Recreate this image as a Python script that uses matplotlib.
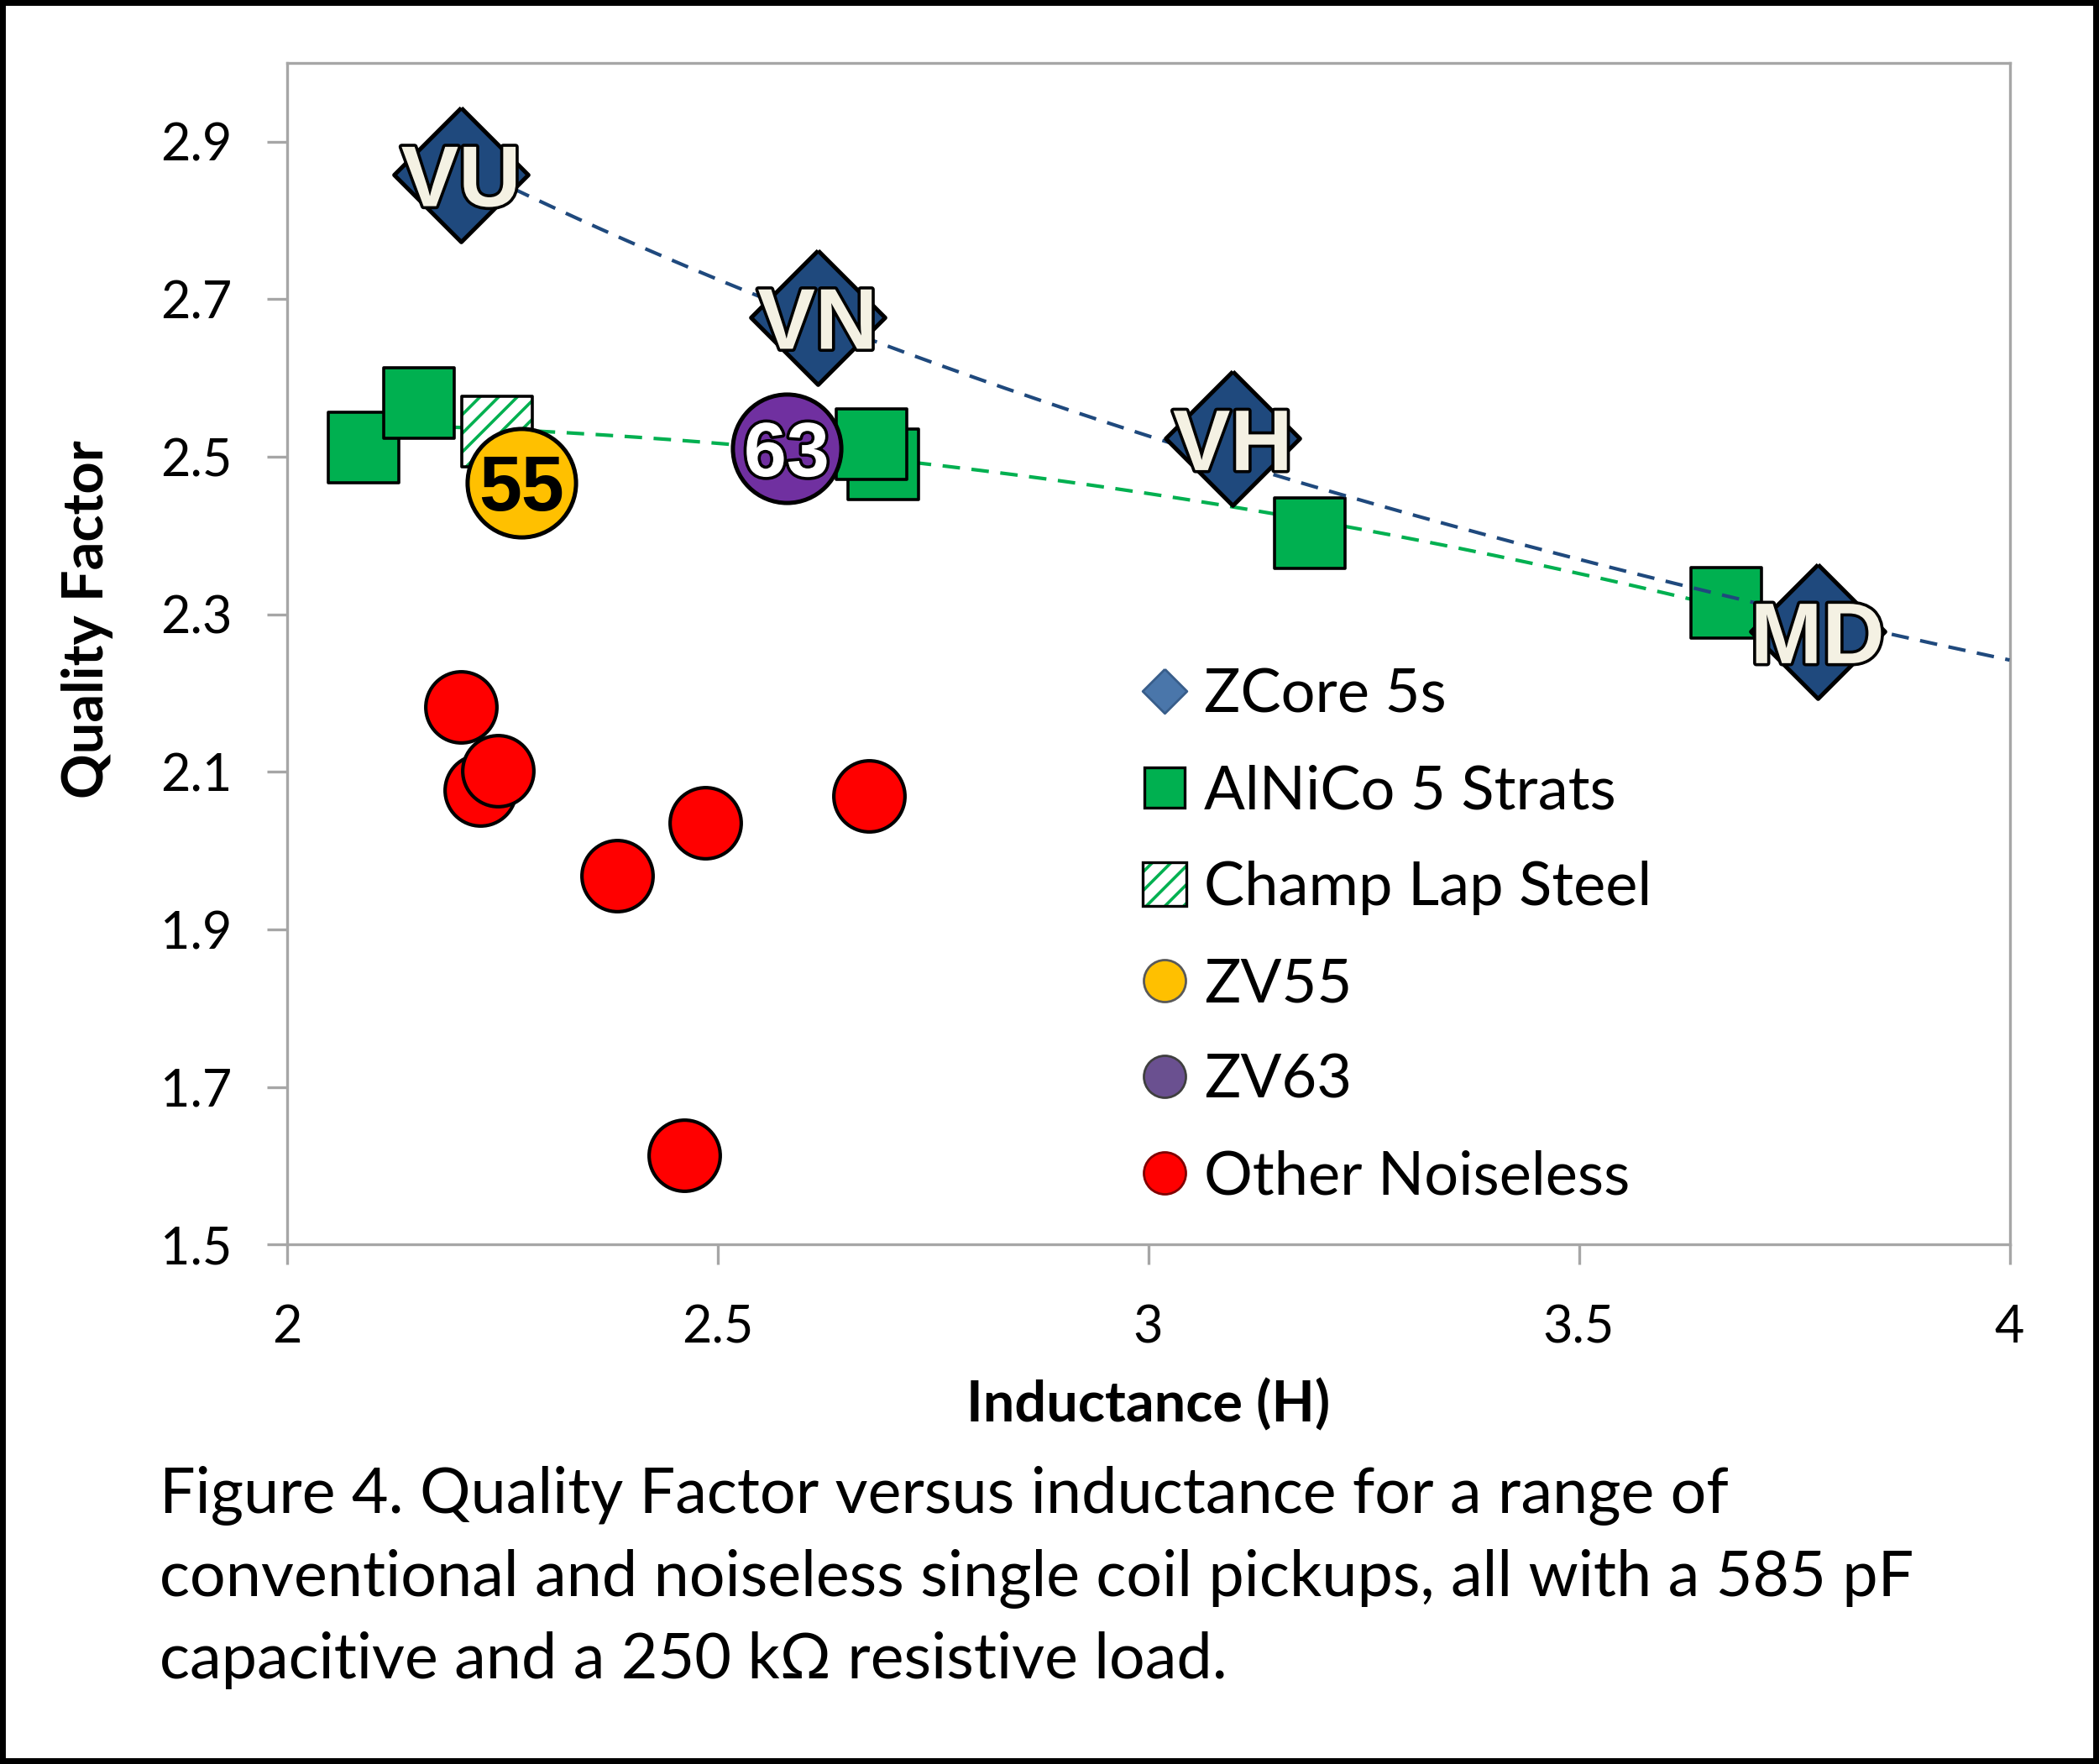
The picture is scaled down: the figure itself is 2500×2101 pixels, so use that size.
import numpy as np
import matplotlib.pyplot as plt
import matplotlib.patheffects as pe
from matplotlib.lines import Line2D
from matplotlib.patches import Patch, Rectangle

plt.rcParams['font.family'] = ['Lato', 'DejaVu Sans']
plt.rcParams['hatch.linewidth'] = 1.3

# ZCore 5s pickups (labelled diamonds)
zcore_L = [2.202, 2.616, 3.098, 3.777]
zcore_Q = [2.858, 2.677, 2.523, 2.278]
zcore_names = ['VU', 'VN', 'VH', 'MD']

# AlNiCo 5 Strats
strat_L = [2.089, 2.153, 2.692, 2.679, 3.188, 3.671]
strat_Q = [2.512, 2.568, 2.490, 2.516, 2.403, 2.315]

# Champ Lap Steel
champ_L = [2.244]
champ_Q = [2.532]

# ZV55 / ZV63
zv55_L = [2.272]
zv55_Q = [2.467]
zv63_L = [2.580]
zv63_Q = [2.511]

# Other noiseless pickups
other_L = [2.202, 2.224, 2.245, 2.383, 2.486, 2.676, 2.461]
other_Q = [2.182, 2.077, 2.101, 1.968, 2.035, 2.070, 1.613]

x_ticks = [2, 2.5, 3, 3.5, 4]
x_ticklabels = ['2', '2.5', '3', '3.5', '4']
y_ticks = [1.5, 1.7, 1.9, 2.1, 2.3, 2.5, 2.7, 2.9]

caption = ['Figure 4. Quality Factor versus inductance for a range of',
           'conventional and noiseless single coil pickups, all with a 585 pF',
           'capacitive and a 250 k\u03a9 resistive load.']

BLUE = '#1F497D'
GREEN = '#00B050'
diamond = [(0, 1), (1, 0), (0, -1), (-1, 0), (0, 1)]

fig = plt.figure(figsize=(12.5, 10.505), dpi=200)
ax = fig.add_axes([0.1367, 0.2944, 0.8207, 0.67])

# trendlines: power fit for ZCore 5s, 2nd order poly for the strats
b, ln_a = np.polyfit(np.log(zcore_L), np.log(zcore_Q), 1)
xs = np.linspace(min(zcore_L), 4.0, 200)
ax.plot(xs, np.exp(ln_a) * xs ** b, color=BLUE, lw=1.5, dashes=(5, 3.3), zorder=3)

c = np.polyfit(strat_L, strat_Q, 2)
xs2 = np.linspace(min(strat_L), max(strat_L), 200)
ax.plot(xs2, np.polyval(c, xs2), color=GREEN, lw=1.5, dashes=(5, 3.3), zorder=1)

ax.scatter(strat_L, strat_Q, marker='s', s=30 ** 2, facecolor=GREEN,
           edgecolor='black', linewidths=1.3, zorder=2)
ax.scatter(champ_L, champ_Q, marker='s', s=30 ** 2, facecolor='white',
           edgecolor=GREEN, linewidths=0, hatch='///', zorder=2)
ax.scatter(champ_L, champ_Q, marker='s', s=30 ** 2, facecolor='none',
           edgecolor='black', linewidths=1.3, zorder=2)

ax.plot(zcore_L, zcore_Q, ls='none', marker=diamond, ms=57.5, mfc=BLUE,
        mec='black', mew=1.8, zorder=4)
ax.plot(other_L, other_Q, ls='none', marker='o', ms=30.5, mfc='#FF0000',
        mec='black', mew=1.5, zorder=4)
ax.plot(zv55_L, zv55_Q, ls='none', marker='o', ms=46.5, mfc='#FFC000',
        mec='black', mew=1.8, zorder=5)
ax.plot(zv63_L, zv63_Q, ls='none', marker='o', ms=46.5, mfc='#7030A0',
        mec='black', mew=1.8, zorder=5)

outline = [pe.withStroke(linewidth=2.6, foreground='black')]
for name, x, y in zip(zcore_names, zcore_L, zcore_Q):
    ax.text(x, y, name, ha='center', va='center_baseline', fontsize=37,
            fontweight='bold', family='Liberation Sans', color='#F4F1E3',
            path_effects=outline, zorder=10)
ax.text(zv55_L[0], zv55_Q[0], '55', ha='center', va='center_baseline',
        fontsize=33, fontweight='bold', family='Liberation Sans',
        color='black', zorder=10)
ax.text(zv63_L[0], zv63_Q[0], '63', ha='center', va='center_baseline',
        fontsize=33, fontweight='bold', family='Liberation Sans',
        color='white', path_effects=outline, zorder=10)

ax.set_xlim(2, 4)
ax.set_ylim(1.5, 3.0)
ax.set_xticks(x_ticks)
ax.set_xticklabels(x_ticklabels)
ax.set_yticks(y_ticks)
ax.set_yticklabels(['%.1f' % v for v in y_ticks])
ax.tick_params(direction='out', length=8.5, width=1.2, color='#A6A6A6',
               labelsize=22)
ax.tick_params(axis='y', pad=15)
ax.tick_params(axis='x', pad=17)
for sp in ax.spines.values():
    sp.set_color('#A6A6A6')
    sp.set_linewidth(1.2)

ax.set_xlabel('Inductance (H)', fontsize=24, fontweight='bold')
ax.xaxis.set_label_coords(0.5, -0.136)
ax.xaxis.label.set_verticalalignment('center')
ax.set_ylabel('Quality Factor', fontsize=24, fontweight='bold')
ax.yaxis.set_label_coords(-0.116, 0.529)
ax.yaxis.label.set_verticalalignment('center')

handles = [
    Line2D([], [], ls='none', marker=diamond, ms=19, mfc='#4A76AA',
           mec='#385D8A', mew=1),
    Line2D([], [], ls='none', marker='s', ms=17, mfc=GREEN, mec='black', mew=1.2),
    (Patch(facecolor='white', edgecolor=GREEN, hatch='///', lw=0),
     Patch(facecolor='none', edgecolor='black', lw=1.2)),
    Line2D([], [], ls='none', marker='o', ms=18, mfc='#FFC000', mec='#595959', mew=1),
    Line2D([], [], ls='none', marker='o', ms=18, mfc='#6A5090', mec='#3F3F3F', mew=1),
    Line2D([], [], ls='none', marker='o', ms=18, mfc='#FF0000', mec='#7F0000', mew=1),
]
labels = ['ZCore 5s', 'AlNiCo 5 Strats', 'Champ Lap Steel', 'ZV55', 'ZV63',
          'Other Noiseless']
ax.legend(handles, labels, loc='upper left', bbox_to_anchor=(0.497, 0.488),
          frameon=False, fontsize=26, borderaxespad=0, borderpad=0,
          handlelength=0.72, handleheight=0.72, handletextpad=0.28,
          labelspacing=0.69)

for i, line in enumerate(caption):
    fig.text(0.076, 0.1423 - i * 0.0469, line, fontsize=27.2, va='baseline')

fig.add_artist(Rectangle((0, 0), 1, 1, transform=fig.transFigure, fill=False,
                         lw=5, edgecolor='black'))

fig.savefig('out.png', dpi=200)
